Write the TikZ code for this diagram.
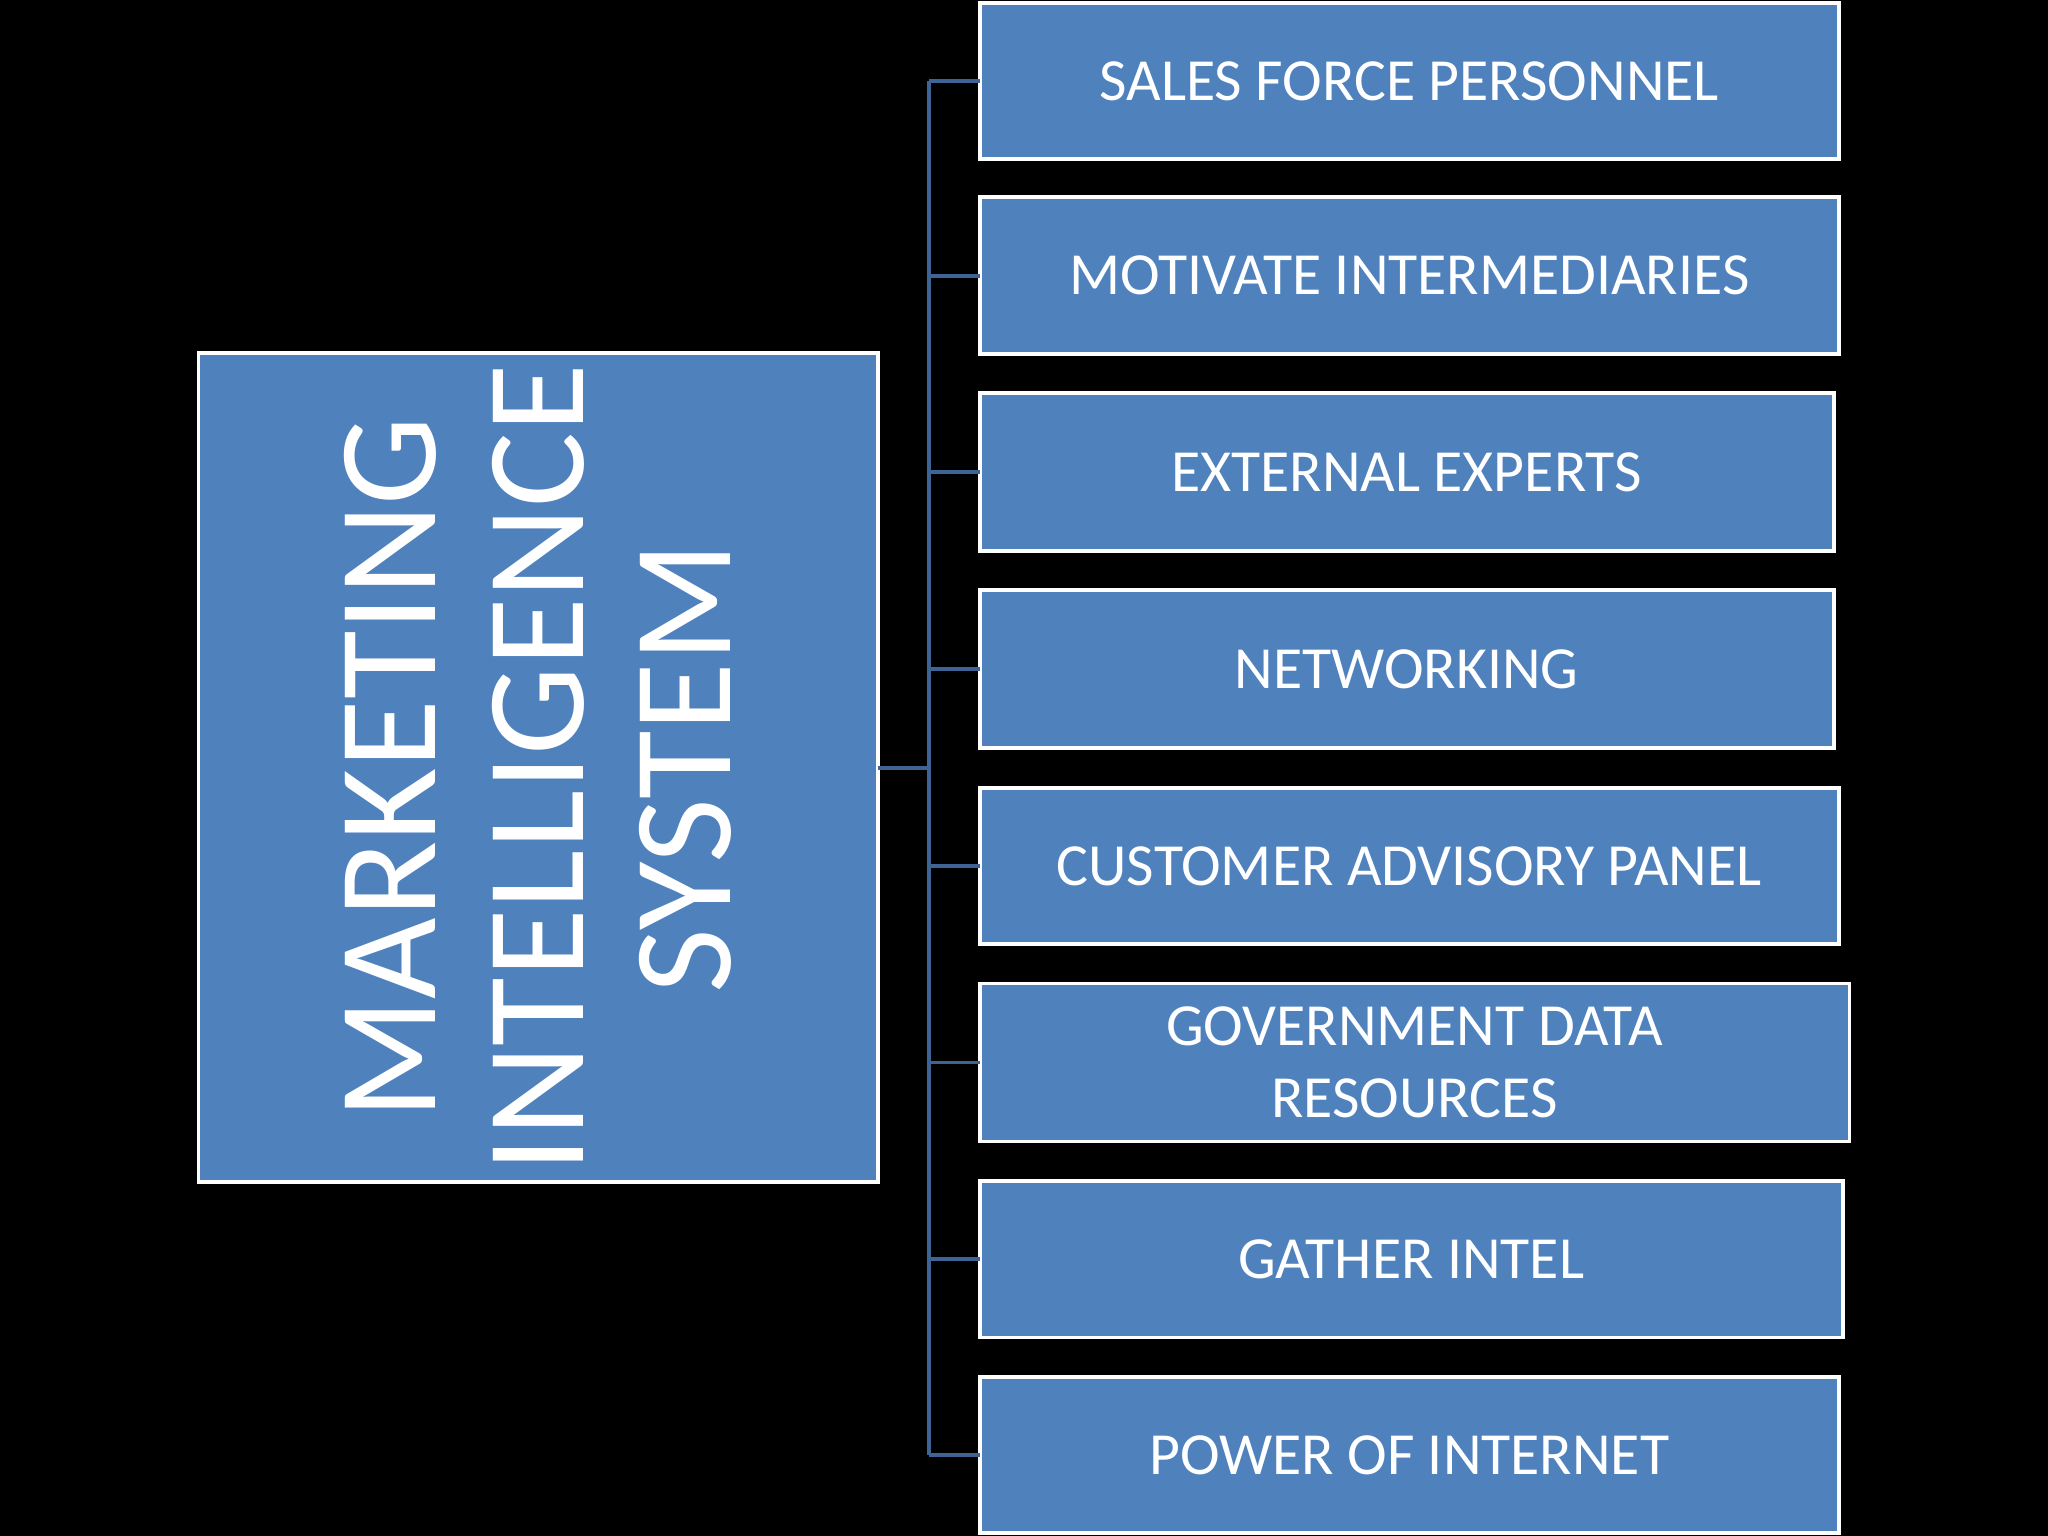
\documentclass[tikz,border=0pt]{standalone}
\usepackage{fontspec}
\setmainfont{Carlito}
\definecolor{boxblue}{HTML}{4F81BD}
\definecolor{linkblue}{HTML}{3E6496}
\begin{document}
\begin{tikzpicture}[x=0.013061cm,y=-0.013061cm,
  box/.style={draw=white,line width=1.1pt,fill=boxblue,inner sep=0pt},
  lbl/.style={text=white,font=\fontsize{17}{20.5}\selectfont,align=center},
  link/.style={draw=linkblue,line width=1.1pt}]
\fill[black] (0,0) rectangle (1568,1176);
\useasboundingbox (0,0) rectangle (1568,1176);
\path[box] (152,270) rectangle (672,905);
\node[lbl,rotate=90,font=\fontsize{40}{42}\selectfont] (m) at (412,588) {MARKETING\\INTELLIGENCE\\SYSTEM};
\coordinate (mr) at (672,588);
\coordinate (j) at (711,588);
\foreach \i/\xr/\ya/\yb/\t in {
 1/1408/2/122/{SALES FORCE PERSONNEL},
 2/1408/151/271/{MOTIVATE INTERMEDIARIES},
 3/1404/301/422/{EXTERNAL EXPERTS},
 4/1404/452/573/{NETWORKING},
 5/1408/603/723/{CUSTOMER ADVISORY PANEL},
 6/1416/753/874/{GOVERNMENT DATA\\RESOURCES},
 7/1411/904/1024/{GATHER INTEL},
 8/1408/1054/1174/{POWER OF INTERNET}}{
 \path[box] (750,\ya) rectangle (\xr,\yb);
 \node[lbl] (b\i) at ({(750+\xr)/2},{(\ya+\yb)/2}) {\t};
 \coordinate (l\i) at (750,{(\ya+\yb)/2});
 \coordinate (v\i) at (711,{(\ya+\yb)/2});
 \draw[link] (v\i) -- (l\i);
}
\draw[link] (v1) -- (v8);
\draw[link] (mr) -- (j);
\end{tikzpicture}
\end{document}
